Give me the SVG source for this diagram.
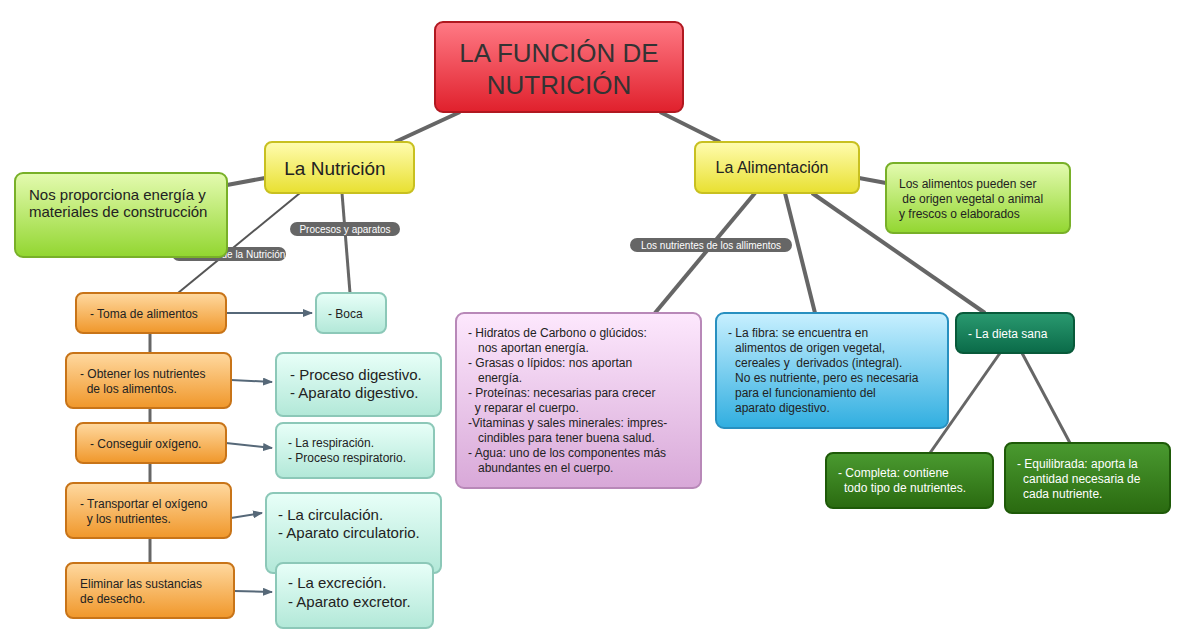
<svg xmlns="http://www.w3.org/2000/svg" width="1181" height="639" viewBox="0 0 1181 639">
<defs>
<linearGradient id="gR" x1="0" y1="0" x2="0" y2="1"><stop offset="0" stop-color="#ff7a85"/><stop offset="1" stop-color="#e0202c"/></linearGradient>
<linearGradient id="gY" x1="0" y1="0" x2="0" y2="1"><stop offset="0" stop-color="#fffcb0"/><stop offset="1" stop-color="#e8e030"/></linearGradient>
<linearGradient id="gG" x1="0" y1="0" x2="0" y2="1"><stop offset="0" stop-color="#e4fbb0"/><stop offset="1" stop-color="#92d630"/></linearGradient>
<linearGradient id="gO" x1="0" y1="0" x2="0" y2="1"><stop offset="0" stop-color="#ffd9a0"/><stop offset="1" stop-color="#f0972a"/></linearGradient>
<linearGradient id="gT" x1="0" y1="0" x2="0" y2="1"><stop offset="0" stop-color="#e8fff8"/><stop offset="1" stop-color="#b2e8d8"/></linearGradient>
<linearGradient id="gP" x1="0" y1="0" x2="0" y2="1"><stop offset="0" stop-color="#fde8fd"/><stop offset="1" stop-color="#d8a8d8"/></linearGradient>
<linearGradient id="gB" x1="0" y1="0" x2="0" y2="1"><stop offset="0" stop-color="#c8f0ff"/><stop offset="1" stop-color="#30aee0"/></linearGradient>
<linearGradient id="gD" x1="0" y1="0" x2="0" y2="1"><stop offset="0" stop-color="#2a9a70"/><stop offset="1" stop-color="#0a6a48"/></linearGradient>
<linearGradient id="gK" x1="0" y1="0" x2="0" y2="1"><stop offset="0" stop-color="#4a9a30"/><stop offset="1" stop-color="#2a6a10"/></linearGradient>
<marker id="ar" markerWidth="10" markerHeight="8" refX="9" refY="4" orient="auto" markerUnits="userSpaceOnUse"><path d="M0,0 L10,4 L0,8 Z" fill="#566878"/></marker>
</defs>
<style>
text{font-family:"Liberation Sans",Arial,sans-serif;fill:#222;white-space:pre}
.s{font-size:12px}
.m{font-size:15px}
.w{fill:#fff}
.pill{fill:#666}
.pt{font-size:10px;fill:#fff}
.ln{stroke:#666;stroke-width:4;fill:none}
.tn{stroke:#555;stroke-width:2;fill:none}
.ar{stroke:#566878;stroke-width:2;fill:none;marker-end:url(#ar)}
</style>
<rect width="1181" height="639" fill="#fff"/>
<g id="connectors">
<line class="ln" x1="460" y1="112" x2="395" y2="142" stroke="#5a6a78"/>
<line class="ln" x1="660" y1="112" x2="720" y2="142"/>
<line class="ln" x1="265" y1="178" x2="227" y2="185"/>
<line class="tn" x1="300" y1="193" x2="178" y2="293"/>
<line class="ln" x1="342" y1="193" x2="350" y2="293" style="stroke-width:3"/>
<line class="ln" x1="150" y1="333" x2="150" y2="563" style="stroke-width:3"/>
<line class="ln" x1="859" y1="178" x2="886" y2="183"/>
<line class="ln" x1="755" y1="193" x2="655" y2="313"/>
<line class="ln" x1="785" y1="193" x2="815" y2="313"/>
<line class="ln" x1="812" y1="193" x2="985" y2="313"/>
<line class="ln" x1="1000" y1="353" x2="930" y2="453" style="stroke-width:3"/>
<line class="ln" x1="1022" y1="353" x2="1070" y2="443" style="stroke-width:3"/>
<line class="ar" x1="226" y1="313" x2="312" y2="313"/>
<line class="ar" x1="231" y1="380" x2="272" y2="382"/>
<line class="ar" x1="226" y1="443" x2="272" y2="448"/>
<line class="ar" x1="231" y1="518" x2="262" y2="513"/>
<line class="ar" x1="234" y1="591" x2="272" y2="592"/>
<g id="lbl1"><rect class="pill" x="172" y="247" width="114" height="14" rx="7"/><text class="pt" x="229" y="258" text-anchor="middle">Funciones de la Nutrición</text></g>
<g id="lbl2"><rect class="pill" x="290" y="222" width="110" height="14" rx="7"/><text class="pt" x="345" y="233" text-anchor="middle">Procesos y aparatos</text></g>
<g id="lbl3"><rect class="pill" x="630" y="238" width="162" height="14" rx="7"/><text class="pt" x="711" y="249" text-anchor="middle">Los nutrientes de los allimentos</text></g>
</g>
<g id="title"><rect x="435" y="22" width="248" height="90" rx="8" fill="url(#gR)" stroke="#b01820" stroke-width="2"/><text x="559" y="62" text-anchor="middle" font-size="26" style="fill:#333">LA FUNCIÓN DE</text><text x="559" y="94" text-anchor="middle" font-size="26" style="fill:#333">NUTRICIÓN</text></g>
<g id="nutricion"><rect x="265" y="142" width="149" height="51" rx="7" fill="url(#gY)" stroke="#c8c020" stroke-width="2"/><text x="335" y="175" text-anchor="middle" font-size="19">La Nutrición</text></g>
<g id="alimentacion"><rect x="695" y="142" width="164" height="51" rx="7" fill="url(#gY)" stroke="#c8c020" stroke-width="2"/><text x="772" y="173" text-anchor="middle" font-size="16">La Alimentación</text></g>
<g id="nos"><rect x="15" y="173" width="212" height="84" rx="8" fill="url(#gG)" stroke="#78b028" stroke-width="2"/><text class="m" x="29" y="200">Nos proporciona energía y</text><text class="m" x="29" y="217">materiales de construcción</text></g>
<g id="losalim"><rect x="886" y="163" width="184" height="70" rx="7" fill="url(#gG)" stroke="#78b028" stroke-width="2"/><text class="s" x="899" y="188">Los alimentos pueden ser</text><text class="s" x="899" y="203"> de origen vegetal o animal</text><text class="s" x="899" y="218">y frescos o elaborados</text></g>
<g id="toma"><rect x="76" y="293" width="150" height="40" rx="7" fill="url(#gO)" stroke="#c87418" stroke-width="2"/><text class="s" x="90" y="318">- Toma de alimentos</text></g>
<g id="obtener"><rect x="66" y="353" width="165" height="55" rx="7" fill="url(#gO)" stroke="#c87418" stroke-width="2"/><text class="s" x="80" y="378">- Obtener los nutrientes</text><text class="s" x="80" y="393">  de los alimentos.</text></g>
<g id="conseguir"><rect x="76" y="423" width="150" height="40" rx="7" fill="url(#gO)" stroke="#c87418" stroke-width="2"/><text class="s" x="90" y="448">- Conseguir oxígeno.</text></g>
<g id="transportar"><rect x="66" y="483" width="165" height="55" rx="7" fill="url(#gO)" stroke="#c87418" stroke-width="2"/><text class="s" x="80" y="508">- Transportar el oxígeno</text><text class="s" x="80" y="523">  y los nutrientes.</text></g>
<g id="eliminar"><rect x="66" y="563" width="168" height="55" rx="7" fill="url(#gO)" stroke="#c87418" stroke-width="2"/><text class="s" x="80" y="588">Eliminar las sustancias</text><text class="s" x="80" y="603">de desecho.</text></g>
<g id="boca"><rect x="316" y="293" width="70" height="40" rx="7" fill="url(#gT)" stroke="#8cc8b8" stroke-width="2"/><text class="s" x="328" y="318">- Boca</text></g>
<g id="digestivo"><rect x="276" y="353" width="165" height="63" rx="7" fill="url(#gT)" stroke="#8cc8b8" stroke-width="2"/><text class="m" x="290" y="380">- Proceso digestivo.</text><text class="m" x="290" y="398">- Aparato digestivo.</text></g>
<g id="respiracion"><rect x="276" y="423" width="158" height="55" rx="7" fill="url(#gT)" stroke="#8cc8b8" stroke-width="2"/><text class="s" x="288" y="447">- La respiración.</text><text class="s" x="288" y="462">- Proceso respiratorio.</text></g>
<g id="circulacion"><rect x="266" y="493" width="175" height="80" rx="7" fill="url(#gT)" stroke="#8cc8b8" stroke-width="2"/><text class="m" x="278" y="520">- La circulación.</text><text class="m" x="278" y="538">- Aparato circulatorio.</text></g>
<g id="excrecion"><rect x="276" y="563" width="157" height="65" rx="7" fill="url(#gT)" stroke="#8cc8b8" stroke-width="2"/><text class="m" x="288" y="588">- La excreción.</text><text class="m" x="288" y="607">- Aparato excretor.</text></g>
<g id="nutrientes"><rect x="456" y="313" width="245" height="175" rx="8" fill="url(#gP)" stroke="#b888b8" stroke-width="2"/>
<text class="s" x="468" y="337">- Hidratos de Carbono o glúcidos:</text>
<text class="s" x="468" y="352">   nos aportan energía.</text>
<text class="s" x="468" y="367">- Grasas o lípidos: nos aportan</text>
<text class="s" x="468" y="382">   energía.</text>
<text class="s" x="468" y="397">- Proteínas: necesarias para crecer</text>
<text class="s" x="468" y="412">  y reparar el cuerpo.</text>
<text class="s" x="468" y="427">-Vitaminas y sales minerales: impres-</text>
<text class="s" x="468" y="442">   cindibles para tener buena salud.</text>
<text class="s" x="468" y="457">- Agua: uno de los componentes más</text>
<text class="s" x="468" y="472">   abundantes en el cuerpo.</text></g>
<g id="fibra"><rect x="716" y="313" width="232" height="115" rx="8" fill="url(#gB)" stroke="#2890c0" stroke-width="2"/>
<text class="s" x="728" y="337">- La fibra: se encuentra en</text>
<text class="s" x="735" y="352">alimentos de origen vegetal,</text>
<text class="s" x="735" y="367">cereales y  derivados (integral).</text>
<text class="s" x="735" y="382">No es nutriente, pero es necesaria</text>
<text class="s" x="735" y="397">para el funcionamiento del</text>
<text class="s" x="735" y="412">aparato digestivo.</text></g>
<g id="dieta"><rect x="956" y="313" width="118" height="40" rx="7" fill="url(#gD)" stroke="#085a3a" stroke-width="2"/><text class="s w" x="968" y="338">- La dieta sana</text></g>
<g id="completa"><rect x="826" y="453" width="167" height="55" rx="7" fill="url(#gK)" stroke="#1e5a08" stroke-width="2"/><text class="s w" x="838" y="477">- Completa: contiene</text><text class="s w" x="844" y="492">todo tipo de nutrientes.</text></g>
<g id="equilibrada"><rect x="1005" y="443" width="165" height="70" rx="7" fill="url(#gK)" stroke="#1e5a08" stroke-width="2"/><text class="s w" x="1017" y="468">- Equilibrada: aporta la</text><text class="s w" x="1023" y="483">cantidad necesaria de</text><text class="s w" x="1023" y="498">cada nutriente.</text></g>
</svg>
